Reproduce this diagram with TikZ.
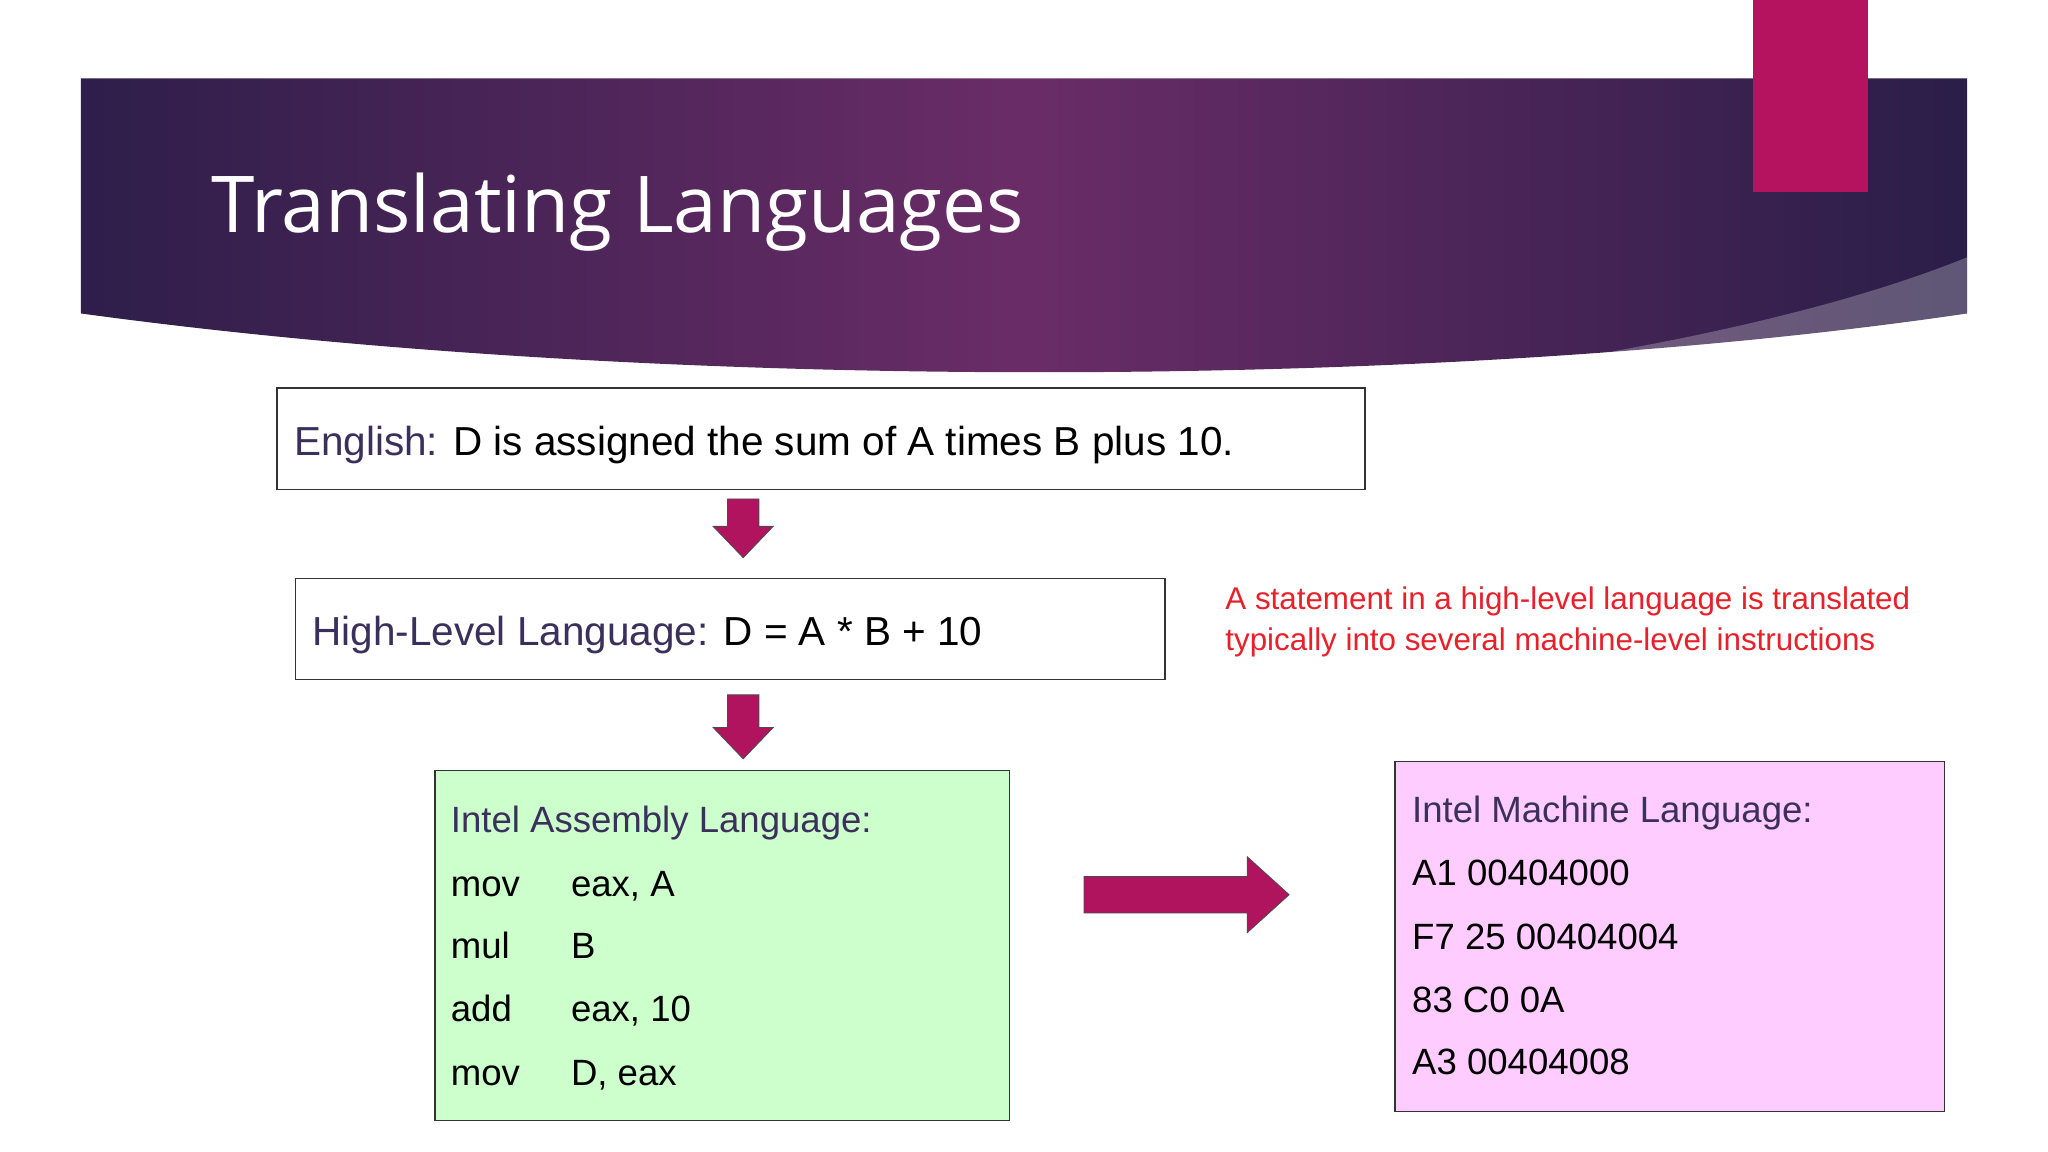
\documentclass[tikz,border=0pt]{standalone}
\usepackage{fontspec}
\setmainfont{Liberation Sans}
\newfontfamily\titlefont{Open Sans}
\definecolor{dpurple}{HTML}{3B2F5B}
\definecolor{arrowc}{HTML}{B0145F}
\definecolor{tabc}{HTML}{B5135F}
\definecolor{bandL}{HTML}{2E1E4A}
\definecolor{bandM}{HTML}{6A2C67}
\definecolor{bandR}{HTML}{2A1E48}
\definecolor{redc}{HTML}{E8202A}
\definecolor{greenc}{HTML}{CCFFCC}
\definecolor{pinkc}{HTML}{FFCCFF}
\begin{document}
\begin{tikzpicture}[x=1pt,y=-1pt,
  txt/.style={anchor=base west,inner sep=0pt,font=\fontsize{31}{36}\selectfont},
  codetxt/.style={anchor=base west,inner sep=0pt,font=\fontsize{28}{34}\selectfont},
  redtxt/.style={anchor=base west,inner sep=0pt,text=redc,font=\fontsize{24}{29}\selectfont},
  boxline/.style={draw=black!80,line width=1pt},
  arr/.style={fill=arrowc,draw=black!70,line width=0.6pt}]
\useasboundingbox (0,0) rectangle (1568,882);
\fill[white] (0,0) rectangle (1568,882);
% banner
\shade[left color=bandL,right color=bandR,middle color=bandM]
  (62,60) -- (1506,60) -- (1506,240) .. controls (1100,300) and (500,300) .. (62,240) -- cycle;
\fill[white,opacity=0.25] (1506,197) .. controls (1400,240) and (1250,270) .. (1100,290) .. controls (1300,270) and (1450,255) .. (1506,240) -- cycle;
\fill[tabc] (1342,0) rectangle (1430,147);
\node[anchor=base west,inner sep=0pt,text=white,font=\titlefont\fontsize{60}{70}\selectfont] (title) at (162,178) {Translating Languages};
% boxes
\draw[boxline] (212,297) rectangle (1045,375);
\node[txt] (eng) at (225,349) {\textcolor{dpurple}{English:} D is assigned the sum of A times B plus 10.};
\draw[boxline] (226,443) rectangle (892,520);
\node[txt] (hll) at (239,494) {\textcolor{dpurple}{High-Level Language:} D = A * B + 10};
\node[redtxt] (r1) at (938,467) {A statement in a high-level language is translated};
\node[redtxt] (r2) at (938,498) {typically into several machine-level instructions};
% arrows
\draw[arr] (557,382) -- (581,382) -- (581,403) -- (592,403) -- (569,427) -- (546,403) -- (557,403) -- cycle;
\draw[arr] (557,532) -- (581,532) -- (581,557) -- (592,557) -- (569,581) -- (546,557) -- (557,557) -- cycle;
\draw[arr] (830,671) -- (955,671) -- (955,656) -- (987,685) -- (955,714) -- (955,699) -- (830,699) -- cycle;
% green box
\draw[boxline,fill=greenc] (333,590) rectangle (773,858);
\node[codetxt,text=dpurple] (a0) at (345,637) {Intel Assembly Language:};
\foreach \y/\a/\b in {686/mov/{eax, A},734/mul/B,782/add/{eax, 10},831/mov/{D, eax}}{
  \node[codetxt] at (345,\y) {\a};
  \node[codetxt] at (437,\y) {\b};
}
% pink box
\draw[boxline,fill=pinkc] (1068,583) rectangle (1489,851);
\node[codetxt,text=dpurple] (m0) at (1081,630) {Intel Machine Language:};
\foreach \y/\t in {678/{A1 00404000},727/{F7 25 00404004},775/{83 C0 0A},823/{A3 00404008}}{
  \node[codetxt] at (1081,\y) {\t};
}
\end{tikzpicture}
\end{document}
